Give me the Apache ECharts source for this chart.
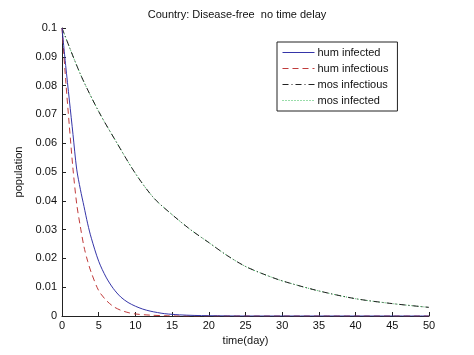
<!DOCTYPE html>
<html>
<head>
<meta charset="utf-8">
<script src="https://cdn.jsdelivr.net/npm/echarts@6/dist/echarts.min.js"></script>
<style>html,body{margin:0;padding:0;background:#fff;}#c{width:474px;height:355px;}</style>
</head>
<body>
<div id="c"></div>
<script>
var titleText = 'Country: Disease-free  no time delay';
var seriesNames = ['hum infected', 'hum infectious', 'mos infectious', 'mos infected'];
var xTicks = [0, 5, 10, 15, 20, 25, 30, 35, 40, 45, 50];
var yTicks = [0, 0.01, 0.02, 0.03, 0.04, 0.05, 0.06, 0.07, 0.08, 0.09, 0.1];

var tHum = [0, 0.5, 1, 1.5, 2, 2.5, 3, 3.5, 4, 5, 6, 7, 8, 9, 10, 11, 12, 13, 14, 16, 18, 20, 25, 30, 35, 40, 45, 50];
var humInfected = [0.1, 0.087, 0.075, 0.063, 0.051, 0.044, 0.038, 0.032, 0.027, 0.019, 0.0135, 0.0095, 0.0066, 0.0047, 0.0034, 0.0024, 0.0017, 0.0012, 0.0008, 0.0004, 0.0002, 0.0001, 0, 0, 0, 0, 0, 0];

var tHumInf = [0, 0.5, 1, 1.5, 2, 2.5, 3, 3.5, 4, 5, 6, 7, 8, 9, 10, 12, 14, 16, 20, 25, 30, 35, 40, 45, 50];
var humInfectious = [0.1, 0.082, 0.066, 0.051, 0.039, 0.031, 0.024, 0.019, 0.015, 0.0088, 0.0055, 0.0033, 0.002, 0.0012, 0.0007, 0.0003, 0.0001, 0, 0, 0, 0, 0, 0, 0, 0];

var tMos = [0, 2.5, 5, 7.5, 10, 12.5, 15, 17.5, 20, 22.5, 25, 27.5, 30, 35, 40, 45, 50];
var mosInfectious = [0.1, 0.084, 0.071, 0.06, 0.0495, 0.041, 0.0352, 0.030, 0.0255, 0.021, 0.0172, 0.0145, 0.0122, 0.0087, 0.006, 0.0043, 0.003];
var mosInfected = [0.1, 0.084, 0.071, 0.06, 0.0495, 0.041, 0.0352, 0.030, 0.0255, 0.021, 0.0172, 0.0145, 0.0122, 0.0087, 0.006, 0.0043, 0.003];

function pairs(t, v) { return t.map(function (x, i) { return [x, v[i]]; }); }

var styles = [
  { color: '#3535a8', width: 1, type: 'solid' },
  { color: '#c03b3b', width: 1, type: [6, 4] },
  { color: '#222222', width: 1, type: [6, 3, 1, 3] },
  { color: '#33bb55', width: 1, type: [1, 2] }
];

var font = 'Liberation Sans, Arial, sans-serif';
var chart = echarts.init(document.getElementById('c'), null, { renderer: 'canvas' });
chart.setOption({
  animation: false,
  backgroundColor: '#ffffff',
  title: {
    text: titleText, left: 'center', top: 9, padding: 0,
    textStyle: { fontFamily: font, fontSize: 11, fontWeight: 'normal', color: '#111' }
  },
  legend: {
    data: seriesNames.map(function (n, i) {
      return { name: n, itemStyle: { opacity: 0 }, lineStyle: styles[i] };
    }),
    orient: 'vertical',
    left: 277, top: 42,
    width: 120,
    padding: [5, 9, 5, 5],
    itemGap: 5,
    itemWidth: 32,
    itemHeight: 12,
    borderColor: '#222', borderWidth: 1,
    backgroundColor: '#fff',
    textStyle: { fontFamily: font, fontSize: 11, color: '#111', padding: [0, 0, 0, -2] }
  },
  grid: { left: 62, right: 45, top: 28, bottom: 39, containLabel: false },
  xAxis: {
    type: 'value', min: xTicks[0], max: xTicks[xTicks.length - 1], interval: 5,
    name: 'time(day)', nameLocation: 'middle', nameGap: 19,
    nameTextStyle: { fontFamily: font, fontSize: 11, color: '#111' },
    axisLine: { lineStyle: { color: '#222', width: 1 } },
    axisTick: { inside: true, length: 4, lineStyle: { color: '#222' } },
    axisLabel: { fontFamily: font, fontSize: 11, color: '#111', margin: 4 },
    splitLine: { show: false }
  },
  yAxis: {
    type: 'value', min: yTicks[0], max: yTicks[yTicks.length - 1], interval: 0.01,
    name: 'population', nameLocation: 'middle', nameGap: 34, nameRotate: 90,
    nameTextStyle: { fontFamily: font, fontSize: 11, color: '#111' },
    axisLine: { show: true, lineStyle: { color: '#222', width: 1 } },
    axisTick: { show: true, inside: true, length: 4, lineStyle: { color: '#222' } },
    axisLabel: {
      fontFamily: font, fontSize: 11, color: '#111', margin: 5,
      formatter: function (v) { return String(+v.toFixed(2)); }
    },
    splitLine: { show: false }
  },
  series: [
    { name: seriesNames[3], type: 'line', data: pairs(tMos, mosInfected), symbol: 'none', smooth: 0.3,
      lineStyle: styles[3], itemStyle: { color: styles[3].color }, z: 1 },
    { name: seriesNames[2], type: 'line', data: pairs(tMos, mosInfectious), symbol: 'none', smooth: 0.3,
      lineStyle: styles[2], itemStyle: { color: styles[2].color }, z: 2 },
    { name: seriesNames[1], type: 'line', data: pairs(tHumInf, humInfectious), symbol: 'none', smooth: 0.3,
      lineStyle: styles[1], itemStyle: { color: styles[1].color }, z: 3 },
    { name: seriesNames[0], type: 'line', data: pairs(tHum, humInfected), symbol: 'none', smooth: 0.3,
      lineStyle: styles[0], itemStyle: { color: styles[0].color }, z: 4 }
  ]
});
</script>
</body>
</html>
